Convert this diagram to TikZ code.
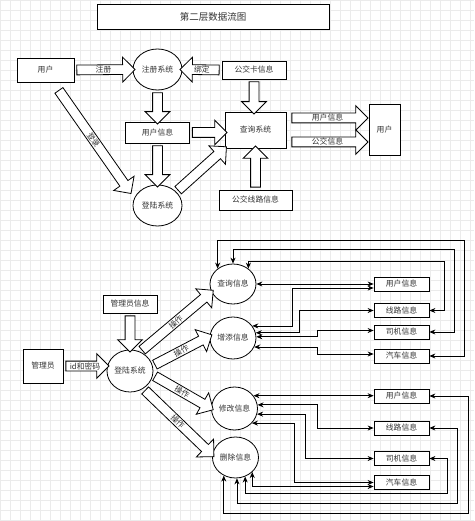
\documentclass[tikz,border=0pt]{standalone}
\usepackage{fontspec}
\setmainfont{Noto Sans CJK SC}
\usetikzlibrary{arrows.meta,shapes.geometric,shapes.arrows,calc}
\definecolor{ink}{HTML}{333333}
\definecolor{gridgray}{HTML}{EBEBEB}
\tikzset{box/.style={draw=black,line width=.8pt,fill=white,inner sep=1pt,font=\fontsize{7.8}{9}\selectfont,text=ink},oval/.style={ellipse,draw=black,line width=.8pt,fill=white,inner sep=0pt,font=\fontsize{7.8}{9}\selectfont,text=ink},info/.style={box,minimum width=55pt,minimum height=14pt},hollow/.style={single arrow,draw=black,line width=.8pt,fill=white,inner xsep=0pt,inner ysep=4.5pt,single arrow head extend=7.5pt,single arrow tip angle=90},alab/.style={font=\fontsize{7.8}{9}\selectfont,text=ink,inner sep=0pt},link/.style={{Stealth[length=6pt,width=5pt]}-{Stealth[length=6pt,width=5pt]},line width=.8pt},gridline/.style={draw=gridgray,line width=.4pt}}
\newcommand{\fatarr}[3]{\path let \p1=($(#2)-(#1)$),\n1={atan2(\y1,\x1)},\n2={veclen(\x1,\y1)} in node[hollow,rotate=\n1,minimum height=\n2] at ($(#1)!.5!(#2)$) {};
\path (#1) -- node[alab,sloped] {#3} (#2);}

\begin{document}
\begin{tikzpicture}[x=1pt,y=-1pt]
\useasboundingbox[fill=white] (0,0) rectangle (474,521);
\foreach \g in {0,10,...,520} \draw[gridline] (0,\g) -- (474,\g);
\foreach \g in {0,10,...,470} \draw[gridline] (\g,0) -- (\g,521);
\node[box,minimum width=232pt,minimum height=25pt,font=\fontsize{9.5}{11}\selectfont] (title) at (213,16.5) {第二层数据流图};
\node[box,minimum width=57pt,minimum height=24pt] (usr) at (45.5,70) {用户};
\node[oval,minimum width=49pt,minimum height=41pt] (reg) at (157.5,69.5) {注册系统};
\node[box,minimum width=64pt,minimum height=18pt] (card) at (254,70) {公交卡信息};
\node[box,minimum width=64pt,minimum height=21pt] (uinfo) at (157.5,132.5) {用户信息};
\node[box,minimum width=61pt,minimum height=36pt] (qs) at (255.5,130) {查询系统};
\node[box,minimum width=31pt,minimum height=51pt] (usr2) at (384.5,129.5) {用户};
\node[oval,minimum width=49pt,minimum height=41pt] (lgn) at (157.5,205.5) {登陆系统};
\node[box,minimum width=73pt,minimum height=20pt] (route) at (255.5,200) {公交线路信息};
\coordinate (lgtail) at ($(usr.south)+(12,6)$);
\coordinate (lghead) at ($(lgn.west)+(-3,-14)$);
\coordinate (o1s) at ($(qs.east)+(3,-12)$);
\coordinate (o1e) at ($(usr2.west)+(-3,-11.5)$);
\coordinate (o2s) at ($(qs.east)+(3,12)$);
\coordinate (o2e) at ($(usr2.west)+(-3,12.5)$);
\fatarr{usr.east}{reg.west}{注册}
\fatarr{card.west}{reg.east}{绑定}
\fatarr{reg.south}{uinfo.north}{}
\fatarr{card.south}{card.south |- qs.north}{}
\fatarr{uinfo.east}{qs.west |- uinfo.east}{}
\fatarr{uinfo.south}{lgn.north}{}
\fatarr{lgn.36}{qs.south west}{}
\fatarr{lgtail}{lghead}{登录}
\fatarr{o1s}{o1e}{用户信息}
\fatarr{o2s}{o2e}{公交信息}
\fatarr{route.north}{route.north |- qs.south}{}
\node[box,minimum width=54pt,minimum height=18pt] (ainfo) at (130,304) {管理员信息};
\node[box,minimum width=40pt,minimum height=34pt] (admin) at (43,366) {管理员};
\node[oval,minimum width=46pt,minimum height=42pt] (lgn2) at (130,371) {登陆系统};
\node[oval,minimum width=46pt,minimum height=40pt] (qi) at (233,284) {查询信息};
\node[oval,minimum width=46pt,minimum height=42pt] (ad) at (233,338) {增添信息};
\node[oval,minimum width=46pt,minimum height=43pt] (md) at (234.5,408.5) {修改信息};
\node[oval,minimum width=46pt,minimum height=41pt] (dl) at (235.5,457.5) {删除信息};
\node[info] (u1) at (401.5,284) {用户信息};
\node[info] (l1) at (401.5,310.5) {线路信息};
\node[info] (d1) at (401.5,332) {司机信息};
\node[info] (c1) at (401.5,356) {汽车信息};
\node[info] (u2) at (401.5,396) {用户信息};
\node[info] (l2) at (401.5,428) {线路信息};
\node[info] (d2) at (401.5,458.5) {司机信息};
\node[info] (c2) at (401.5,482.5) {汽车信息};
\fatarr{ainfo.south}{lgn2.north}{}
\fatarr{admin.east}{lgn2.west |- admin.east}{id和密码}
\fatarr{lgn2.62}{qi.-160}{操作}
\fatarr{lgn2.13}{ad.175}{操作}
\fatarr{lgn2.-10}{md.west}{操作}
\fatarr{lgn2.-53}{dl.174}{操作}
\draw[link] (qi.east) -- (u1.west);
\draw[link] (qi.135) -- ++(0,-28) -| ([xshift=35pt]c1.east) -- (c1.east);
\draw[link] (qi.north) -- ++(0,-14) -| ([xshift=25pt]d1.east) -- (d1.east);
\draw[link] (qi.45) -- ++(0,-7) -| ([xshift=15pt]l1.east) -- (l1.east);
\draw[link] (ad.32) -- ++(40,0) |- ([yshift=-4pt]u1.west);
\draw[link] (ad.13) -- ++(44,0) |- (l1.west);
\draw[link] (ad.3) -- ++(61,0) |- ([yshift=1.5pt]d1.west);
\draw[link] (ad.-23) -- ++(63,0) |- ([yshift=2pt]c1.west);
\draw[link] (md.34) -- (md.34 -| u2.west);
\draw[link] (md.9) -- ++(60,0) |- (l2.west);
\draw[link] (md.-14) -- ++(48,0) |- (d2.west);
\draw[link] (md.-40) -- ++(42,0) |- (c2.west);
\draw[link] (dl.-41) |- ([yshift=-4pt]c2.west);
\draw[link] (dl.-63) -- ++(0,17) -| ([xshift=18pt]d2.east) -- (d2.east);
\draw[link] (dl.-86) -- ++(0,25) -| ([xshift=28pt]l2.east) -- (l2.east);
\draw[link] (dl.-123) -- ++(0,38) -| ([xshift=39pt]u2.east) -- (u2.east);
\end{tikzpicture}
\end{document}
